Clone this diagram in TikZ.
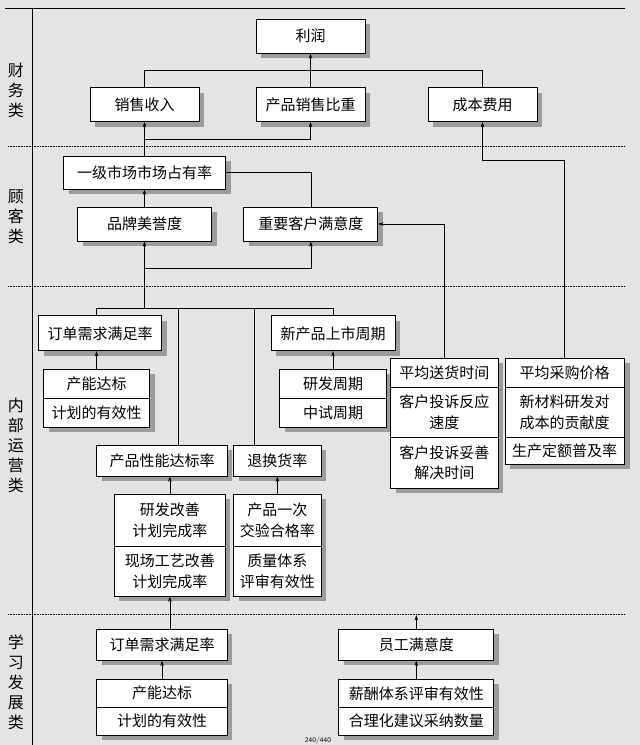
\documentclass[tikz,border=0pt]{standalone}
\usepackage{fontspec}
\newfontfamily\cjk{Noto Sans CJK SC}
\usetikzlibrary{arrows.meta,shadows}

\definecolor{bggray}{HTML}{E4E4E4}
\definecolor{shadowgray}{HTML}{9C9C9C}

\tikzset{
  >={Stealth[length=5.5pt,width=3.5pt]},
  box/.style={draw, fill=white, line width=0.7pt, inner sep=0pt, align=center,
    font=\cjk\fontsize{15}{20.5}\selectfont,
    drop shadow={shadow xshift=5pt, shadow yshift=-5pt, fill=shadowgray, opacity=1}},
  sz/.style 2 args={minimum width=#1pt, minimum height=#2pt},
  side/.style={align=center, inner sep=0pt, font=\cjk\fontsize{16}{20}\selectfont},
  sep/.style={densely dotted, line width=0.6pt},
  link/.style={line width=0.6pt}
}

\begin{document}
\begin{tikzpicture}[x=1pt, y=-1pt]
      \fill[bggray] (0,0) rectangle (640,745);
      \useasboundingbox (0,0) rectangle (640,745);

      \draw[line width=1pt] (5,8) to (625,8);
      \draw[line width=0.8pt] (32.7,8) to (32.7,745);
      \draw[sep] (8,146.7) to (624.5,146.7);
      \draw[sep] (8,286.7) to (624.5,286.7);
      \draw[sep] (8,614) to (624.5,614);

      \node[side] (cw) at (16,90){财\\务\\类};
      \node[side] (gk) at (16,217){顾\\客\\类};
      \node[side] (nb) at (16,445){内\\部\\运\\营\\类};
      \node[side] (xx) at (16,682){学\\习\\发\\展\\类};

      \node[box, sz={109}{34}] (lr) at (310.5,36){利润};
      \node[box, sz={109}{34}] (xssr) at (144.5,104.5){销售收入};
      \node[box, sz={109}{34}] (cpbz) at (310.5,104.5){产品销售比重};
      \node[box, sz={109}{34}] (cbfy) at (482.5,104.5){成本费用};

      \node[box, sz={162}{33}] (yjsc) at (144.5,172.5){一级市场市场占有率};
      \node[box, sz={134}{34}] (ppmy) at (144.5,224){品牌美誉度};
      \node[box, sz={134}{34}] (zykh) at (310.8,224){重要客户满意度};

      \node[box, sz={123}{35}] (ddxq) at (100,333.3){订单需求满足率};
      \node[box, sz={124}{35}] (xcp) at (333,333.3){新产品上市周期};
      \node[box, sz={106}{29}] (cndb) at (96.5,383.8){产能达标};
      \node[box, sz={106}{29}] (jhyx) at (96.5,412.8){计划的有效性};
      \node[box, sz={107}{29}] (yfzq) at (333,383.8){研发周期};
      \node[box, sz={107}{29}] (zszq) at (333,412.8){中试周期};

      \node[box, sz={107.4}{29}] (pjsh) at (444.3,372.8){平均送货时间};
      \node[box, sz={107.4}{50}] (khfy) at (444.3,412.3){客户投诉反应\\速度};
      \node[box, sz={107.4}{51}] (khts) at (444.3,462.8){客户投诉妥善\\解决时间};
      \node[box, sz={119.6}{29}] (pjcg) at (564.7,372.8){平均采购价格};
      \node[box, sz={119.6}{50}] (xcl) at (564.7,412.3){新材料研发对\\成本的贡献度};
      \node[box, sz={119.6}{27}] (scde) at (564.7,450.7){生产定额普及率};

      \node[box, sz={130.6}{31}] (cpxn) at (162,460.5){产品性能达标率};
      \node[box, sz={87.7}{31}] (thh) at (277.4,460.5){退换货率};
      \node[box, sz={111}{52.4}] (yfgs) at (169.8,520.5){研发改善\\计划完成率};
      \node[box, sz={111}{49.3}] (xcgy) at (169.8,571.4){现场工艺改善\\计划完成率};
      \node[box, sz={87.7}{52.4}] (cpyc) at (277.4,520.5){产品一次\\交验合格率};
      \node[box, sz={87.7}{49.3}] (zltx) at (277.4,571.4){质量体系\\评审有效性};

      \node[box, sz={130.6}{31}] (ddxq2) at (162,644.7){订单需求满足率};
      \node[box, sz={155}{31}] (ygmy) at (416.3,644.7){员工满意度};
      \node[box, sz={130.6}{28}] (cndb2) at (162,693.3){产能达标};
      \node[box, sz={130.6}{27.7}] (jhyx2) at (162,721.2){计划的有效性};
      \node[box, sz={155}{28}] (xcts) at (416.3,693.3){薪酬体系评审有效性};
      \node[box, sz={155}{27.7}] (hljy) at (416.3,721.2){合理化建议采纳数量};

      \node[font=\sffamily\fontsize{7}{7}\selectfont] (ym) at (318,740.5){240/440};

      \coordinate (f1) at (144.5,139.3);
      \coordinate (c1) at (482.5,160.7);
      \coordinate (g1) at (144.5,268.3);
      \coordinate (n0) at (144.5,308.3);
      \coordinate (n1) at (96.5,308.3);
      \coordinate (n2) at (178,308.3);
      \coordinate (n3) at (253.9,308.3);
      \coordinate (n4) at (333,308.3);
      \coordinate (y1) at (416.3,615);

      \draw[link, ->] (cpbz) to (lr);
      \draw[link] (xssr.north) -- ++(0,-16.5) -| (cbfy.north);
      \draw[link, ->] (yjsc) to (xssr);
      \draw[link, ->] (f1) -| (cpbz.south);
      \draw[link, ->] (pjcg.north) |- (c1) -- (cbfy.south);

      \draw[link] (yjsc.east) -| (zykh.north);
      \draw[link, ->] (ppmy) to (yjsc);
      \draw[link, ->] (pjsh.north) |- (zykh.east);
      \draw[link, ->] (g1) -| (zykh.south);
      \draw[link, ->] (n0) to (ppmy.south);

      \draw[link] (n1 |- ddxq.north) -- (n1) -- (n4) -- (n4 |- xcp.north);
      \draw[link] (n2) -- (n2 |- cpxn.north);
      \draw[link] (n3) -- (n3 |- thh.north);
      \draw[link, ->] (cndb.north) -- (cndb.north |- ddxq.south);
      \draw[link, ->] (yfzq) to (xcp);
      \draw[link, ->] (yfgs.north) -- (yfgs.north |- cpxn.south);
      \draw[link, ->] (cpyc) to (thh);

      \draw[link, ->] (xcgy.south |- ddxq2.north) -- (xcgy.south);
      \draw[link, ->] (cndb2) to (ddxq2);
      \draw[link, ->] (ygmy) to (y1);
      \draw[link, ->] (xcts) to (ygmy);
    \end{tikzpicture}
\end{document}
